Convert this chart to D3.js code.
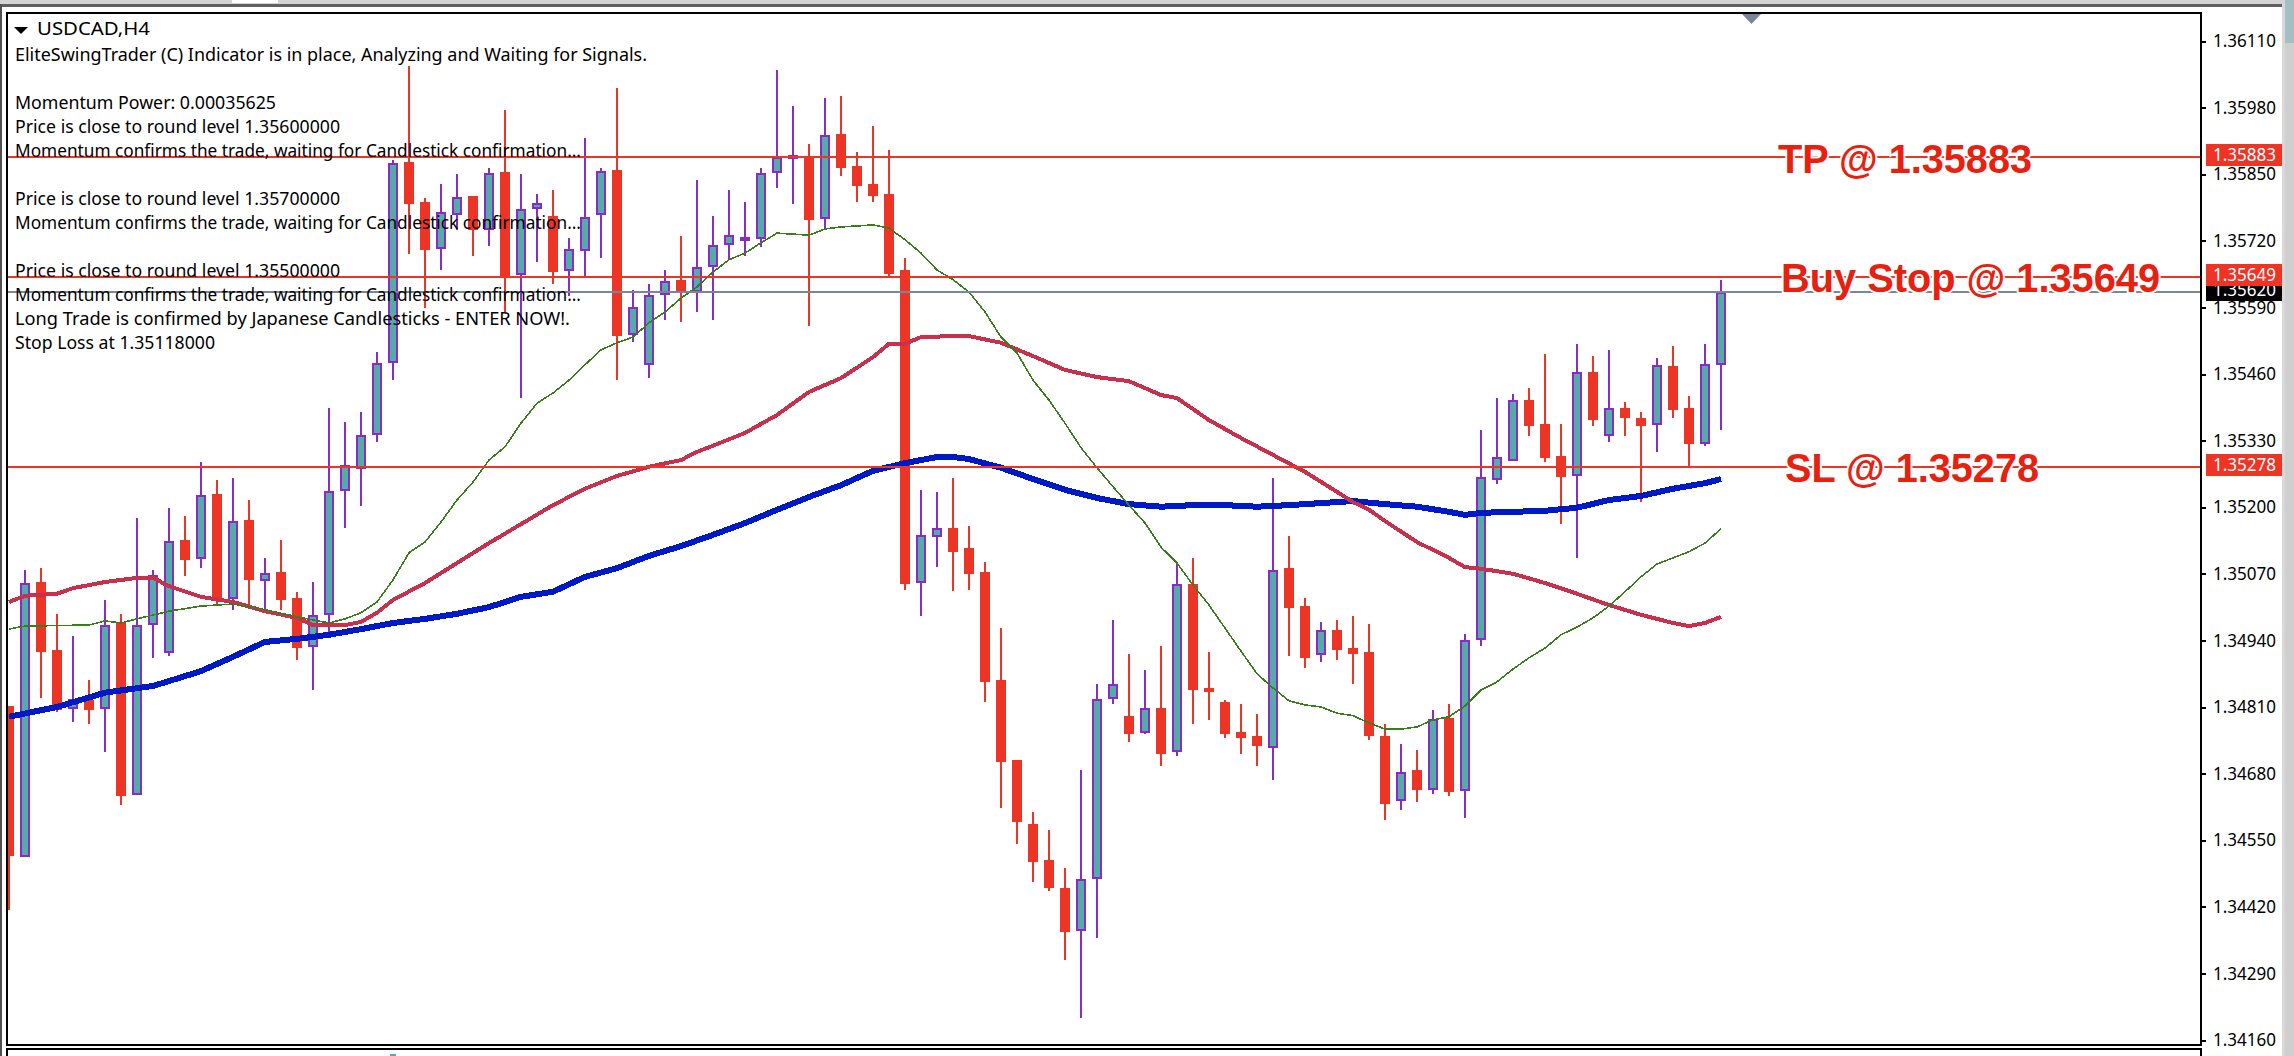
<!DOCTYPE html>
<html>
<head>
<meta charset="utf-8">
<title>USDCAD,H4</title>
<script src="https://cdn.jsdelivr.net/npm/d3@7"></script>
<style>
  html, body { margin: 0; padding: 0; background: #fff; overflow: hidden; }
  svg { display: block; }
  text { font-family: "Noto Sans", sans-serif; }
  .axis text, .tag text { font-size: 18px; fill: #000; }
  .tag text { fill: #fff; }
  .info { font-size: 17.5px; fill: #000; }
  .level-label {
    font-family: "Liberation Sans", sans-serif; font-weight: bold; font-size: 41px;
    fill: #e8200f; stroke: #fff; stroke-width: 4px; paint-order: stroke;
  }
</style>
</head>
<body>
<svg id="chart" width="2294" height="1056"></svg>
<script>
const opens = [1.34812,1.34518,1.35054,1.34921,1.34806,1.34824,1.34806,1.34974,1.34639,1.34970,1.34916,1.35136,1.35099,1.35226,1.35021,1.35175,1.35056,1.35074,1.35023,1.34927,1.34990,1.35232,1.35275,1.35341,1.35482,1.35874,1.35796,1.35704,1.35770,1.35808,1.35741,1.35854,1.35653,1.35782,1.35768,1.35661,1.35700,1.35770,1.35858,1.35536,1.35478,1.35614,1.35644,1.35620,1.35669,1.35712,1.35720,1.35724,1.35852,1.35884,1.35884,1.35763,1.35928,1.35866,1.35831,1.35811,1.35663,1.35052,1.35142,1.35160,1.35121,1.35074,1.34863,1.34707,1.34582,1.34512,1.34457,1.34373,1.34475,1.34826,1.34793,1.34760,1.34808,1.34722,1.35050,1.34847,1.34820,1.34761,1.34754,1.34730,1.35081,1.35007,1.34912,1.34960,1.34925,1.34918,1.34754,1.34627,1.34687,1.34648,1.34789,1.34646,1.34941,1.35253,1.35290,1.35409,1.35363,1.35300,1.35261,1.35464,1.35339,1.35394,1.35374,1.35361,1.35476,1.35394,1.35323,1.35478];
const closes = [1.34520,1.35052,1.34918,1.34804,1.34826,1.34804,1.34970,1.34637,1.34970,1.35068,1.35134,1.35097,1.35224,1.35021,1.35173,1.35058,1.35072,1.35019,1.34925,1.34990,1.35232,1.35282,1.35341,1.35482,1.35872,1.35792,1.35702,1.35776,1.35806,1.35741,1.35852,1.35649,1.35782,1.35794,1.35659,1.35704,1.35766,1.35856,1.35534,1.35591,1.35614,1.35642,1.35620,1.35669,1.35712,1.35731,1.35727,1.35852,1.35884,1.35887,1.35761,1.35927,1.35862,1.35827,1.35808,1.35655,1.35050,1.35146,1.35160,1.35113,1.35070,1.34859,1.34703,1.34586,1.34508,1.34457,1.34371,1.34475,1.34826,1.34855,1.34758,1.34808,1.34718,1.35050,1.34843,1.34840,1.34758,1.34750,1.34734,1.35077,1.35003,1.34906,1.34960,1.34921,1.34914,1.34754,1.34621,1.34683,1.34648,1.34787,1.34644,1.34941,1.35259,1.35298,1.35409,1.35359,1.35296,1.35259,1.35464,1.35370,1.35394,1.35374,1.35359,1.35478,1.35390,1.35323,1.35480,1.35620];
const highs = [1.34812,1.35077,1.35081,1.34992,1.34949,1.34863,1.35019,1.34992,1.35179,1.35077,1.35199,1.35183,1.35289,1.35253,1.35257,1.35214,1.35101,1.35136,1.35035,1.35054,1.35394,1.35366,1.35386,1.35503,1.35878,1.36061,1.35804,1.35831,1.35850,1.35808,1.35862,1.35975,1.35850,1.35811,1.35819,1.35725,1.35921,1.35862,1.36018,1.35624,1.35636,1.35663,1.35729,1.35839,1.35768,1.35819,1.35796,1.35862,1.36053,1.35983,1.35909,1.35999,1.36003,1.35893,1.35944,1.35897,1.35686,1.35234,1.35230,1.35257,1.35163,1.35093,1.34964,1.34707,1.34605,1.34570,1.34496,1.34687,1.34855,1.34980,1.34914,1.34882,1.34929,1.35091,1.35101,1.34918,1.34824,1.34816,1.34797,1.35257,1.35144,1.35023,1.34976,1.34980,1.34988,1.34972,1.34777,1.34738,1.34726,1.34804,1.34816,1.34953,1.35351,1.35413,1.35421,1.35433,1.35499,1.35363,1.35519,1.35495,1.35507,1.35405,1.35386,1.35491,1.35515,1.35417,1.35519,1.35644];
const lows = [1.34414,1.34518,1.34828,1.34800,1.34781,1.34777,1.34722,1.34619,1.34639,1.34906,1.34910,1.35066,1.35081,1.35011,1.35000,1.35007,1.35002,1.35000,1.34902,1.34843,1.34955,1.35160,1.35202,1.35327,1.35448,1.35694,1.35589,1.35663,1.35741,1.35690,1.35710,1.35581,1.35413,1.35679,1.35636,1.35612,1.35649,1.35686,1.35448,1.35523,1.35452,1.35566,1.35562,1.35581,1.35566,1.35683,1.35690,1.35708,1.35823,1.35792,1.35554,1.35741,1.35847,1.35796,1.35796,1.35649,1.35039,1.34988,1.35083,1.35037,1.35039,1.34820,1.34613,1.34543,1.34469,1.34451,1.34316,1.34203,1.34359,1.34816,1.34742,1.34758,1.34695,1.34715,1.34777,1.34785,1.34750,1.34718,1.34695,1.34668,1.34910,1.34886,1.34898,1.34902,1.34855,1.34746,1.34590,1.34609,1.34625,1.34640,1.34637,1.34594,1.34929,1.35245,1.35290,1.35339,1.35288,1.35167,1.35101,1.35359,1.35327,1.35339,1.35210,1.35308,1.35374,1.35279,1.35320,1.35351];

const fastBars = [0,1,5,6,7,8,10,12,14,16,18,20,21,22,23,24,25,26,27,28,29,30,31,32,33,34,35,36,37,38,39,40,41,42,43,44,45,46,47,48,50,51,52,54,55,56,57,58,59,60,61,62,63,64,65,66,67,68,69,70,71,72,73,74,75,76,77,78,79,80,81,82,83,84,85,86,87,88,89,90,91,92,93,94,95,96,97,98,99,100,101,102,103,104,105,106,107];
const fastMa = [1.34962,1.34968,1.34970,1.34978,1.34974,1.34982,1.34997,1.35007,1.35011,1.35000,1.34986,1.34974,1.34982,1.34994,1.35015,1.35058,1.35111,1.35132,1.35171,1.35214,1.35249,1.35292,1.35318,1.35364,1.35403,1.35423,1.35448,1.35478,1.35507,1.35521,1.35532,1.35560,1.35581,1.35608,1.35630,1.35659,1.35683,1.35696,1.35716,1.35735,1.35731,1.35743,1.35747,1.35751,1.35745,1.35722,1.35696,1.35663,1.35644,1.35620,1.35581,1.35532,1.35501,1.35448,1.35409,1.35364,1.35316,1.35277,1.35240,1.35204,1.35169,1.35122,1.35091,1.35048,1.35009,1.34964,1.34919,1.34875,1.34847,1.34822,1.34814,1.34810,1.34798,1.34793,1.34779,1.34767,1.34767,1.34771,1.34785,1.34791,1.34812,1.34843,1.34859,1.34884,1.34906,1.34925,1.34951,1.34966,1.34984,1.35007,1.35035,1.35064,1.35089,1.35101,1.35113,1.35130,1.35158];
const midBars = [0,1,3,4,6,8,9,10,12,14,16,18,19,21,22,23,24,26,28,30,32,34,36,38,40,42,43,44,46,48,50,52,54,55,56,57,59,60,62,64,66,68,70,72,73,75,77,79,81,83,84,85,86,88,90,91,92,94,96,98,100,102,104,105,106,107];
const midMa = [1.35015,1.35027,1.35031,1.35042,1.35054,1.35062,1.35062,1.35046,1.35025,1.35015,1.34997,1.34984,1.34970,1.34970,1.34976,1.34994,1.35019,1.35052,1.35091,1.35130,1.35167,1.35204,1.35236,1.35261,1.35279,1.35292,1.35308,1.35320,1.35345,1.35380,1.35425,1.35452,1.35493,1.35519,1.35519,1.35532,1.35534,1.35534,1.35521,1.35495,1.35468,1.35454,1.35446,1.35419,1.35413,1.35370,1.35335,1.35302,1.35269,1.35230,1.35210,1.35195,1.35173,1.35132,1.35101,1.35083,1.35080,1.35070,1.35052,1.35031,1.35009,1.34990,1.34974,1.34968,1.34974,1.34986];
const slowBars = [0,3,6,9,12,14,16,18,20,22,24,26,28,30,32,34,36,38,40,42,44,46,48,50,52,54,56,58,59,60,62,64,66,68,70,72,74,76,78,80,82,84,86,88,90,91,92,94,96,98,100,102,104,106,107];
const slowMa = [1.34791,1.34810,1.34838,1.34851,1.34880,1.34908,1.34937,1.34943,1.34951,1.34962,1.34974,1.34982,1.34992,1.35005,1.35025,1.35035,1.35064,1.35081,1.35105,1.35124,1.35146,1.35169,1.35195,1.35220,1.35243,1.35271,1.35286,1.35298,1.35298,1.35294,1.35277,1.35255,1.35234,1.35218,1.35206,1.35201,1.35204,1.35204,1.35201,1.35204,1.35208,1.35212,1.35206,1.35201,1.35191,1.35185,1.35189,1.35191,1.35193,1.35199,1.35214,1.35222,1.35236,1.35247,1.35255];

const priceTicks = [1.36110,1.35980,1.35850,1.35720,1.35590,1.35460,1.35330,1.35200,1.35070,1.34940,1.34810,1.34680,1.34550,1.34420,1.34290,1.34160];
const takeProfit = 1.35883;
const buyStop = 1.35649;
const stopLoss = 1.35278;
const lastPrice = 1.35620;

const symbolTitle = 'USDCAD,H4';
const infoLines = [
  'EliteSwingTrader (C) Indicator is in place, Analyzing and Waiting for Signals.',
  '',
  'Momentum Power: 0.00035625',
  'Price is close to round level 1.35600000',
  'Momentum confirms the trade, waiting for Candlestick confirmation...',
  '',
  'Price is close to round level 1.35700000',
  'Momentum confirms the trade, waiting for Candlestick confirmation...',
  '',
  'Price is close to round level 1.35500000',
  'Momentum confirms the trade, waiting for Candlestick confirmation...',
  'Long Trade is confirmed by Japanese Candlesticks - ENTER NOW!.',
  'Stop Loss at 1.35118000'
];
const infoWidths = [632,0,261,325,566,0,325,566,0,325,566,555,200];

const levelLabels = [
  { text: 'TP @ 1.35883', price: takeProfit, left: 1778, width: 254, drop: 16 },
  { text: 'Buy Stop @ 1.35649', price: buyStop, left: 1781, width: 379, drop: 15 },
  { text: 'SL @ 1.35278', price: stopLoss, left: 1785, width: 254, drop: 15 }
];

const svg = d3.select('#chart');
const frame = { left: 7, top: 13, right: 2201, bottom: 1045 };

const x = d3.scaleLinear().domain([0, opens.length - 1]).range([9, 1721]);
const y = d3.scaleLinear().domain([priceTicks[0], priceTicks[priceTicks.length - 1]]).range([41, 1040]);
const fmt = d3.format('.5f');

const purple = '#8a2bc9', red = '#ee3425', teal = '#55aba6', slate = '#78869a';

// window chrome
svg.append('rect').attr('width', 2294).attr('height', 4).attr('fill', '#d4d4d4');
svg.append('rect').attr('y', 4).attr('width', 2282).attr('height', 3).attr('fill', '#606060');
svg.append('rect').attr('x', 232).attr('width', 46).attr('height', 3).attr('fill', '#fff');
svg.append('rect').attr('y', 4).attr('width', 2).attr('height', 1052).attr('fill', '#505050');
svg.append('rect').attr('x', 2282).attr('y', 4).attr('width', 3).attr('height', 1052).attr('fill', '#d8d8d8');
svg.append('rect').attr('x', 2285).attr('y', 4).attr('width', 9).attr('height', 1052).attr('fill', '#cfcfcf');
svg.append('rect').attr('x', 2285).attr('y', 0).attr('width', 9).attr('height', 43).attr('fill', '#a3bfc3');

svg.append('clipPath').attr('id', 'plot-clip').append('rect')
  .attr('x', frame.left).attr('y', frame.top)
  .attr('width', frame.right - frame.left).attr('height', frame.bottom - frame.top);

const plot = svg.append('g').attr('clip-path', 'url(#plot-clip)').attr('shape-rendering', 'crispEdges');

// candles
const bars = opens.map((o, i) => ({ i, o, c: closes[i], h: highs[i], l: lows[i], up: closes[i] >= o }));
const candle = plot.selectAll('.candle').data(bars).enter().append('g').attr('class', 'candle');

candle.append('rect')
  .attr('x', d => x(d.i) - 1)
  .attr('y', d => y(d.h))
  .attr('width', 2)
  .attr('height', d => y(d.l) - y(d.h))
  .attr('fill', d => d.up ? purple : red);

candle.append('rect')
  .attr('x', d => x(d.i) - (d.up ? 4 : 5))
  .attr('y', d => y(Math.max(d.o, d.c)) + (d.up ? 1 : 0))
  .attr('width', d => d.up ? 8 : 10)
  .attr('height', d => Math.max(2, y(Math.min(d.o, d.c)) - y(Math.max(d.o, d.c)) - (d.up ? 2 : 0)))
  .attr('fill', d => d.up ? teal : red)
  .attr('stroke', d => d.up ? purple : 'none')
  .attr('stroke-width', 2);

// moving averages
const maLine = d3.line().x(d => x(d[0])).y(d => y(d[1]));
[
  { bars: slowBars, values: slowMa, color: '#0019c6', width: 6 },
  { bars: midBars, values: midMa, color: '#c9304c', width: 4 },
  { bars: fastBars, values: fastMa, color: '#3a7d1c', width: 1.6 }
].forEach(ma => {
  plot.append('path')
    .datum(ma.bars.map((b, i) => [b, ma.values[i]]))
    .attr('d', maLine)
    .attr('fill', 'none')
    .attr('stroke', ma.color)
    .attr('stroke-width', ma.width);
});

// horizontal levels
plot.selectAll('.level').data([takeProfit, buyStop, lastPrice, stopLoss]).enter().append('rect')
  .attr('class', 'level')
  .attr('x', frame.left)
  .attr('y', d => Math.round(y(d)) - 1)
  .attr('width', frame.right - frame.left)
  .attr('height', 2)
  .attr('fill', d => d === lastPrice ? slate : red);

// shift marker at the top of the chart
svg.append('path')
  .attr('d', d3.line()([[1742, 14], [1761, 14], [1751.5, 24]]))
  .attr('fill', slate);

// level labels
svg.selectAll('.level-label').data(levelLabels).enter().append('text')
  .attr('class', 'level-label')
  .attr('x', d => d.left)
  .attr('y', d => y(d.price) + d.drop)
  .attr('textLength', d => d.width)
  .attr('lengthAdjust', 'spacingAndGlyphs')
  .text(d => d.text);

// title and indicator text
svg.append('path').attr('d', d3.line()([[14, 27], [28, 27], [21, 34]])).attr('fill', '#000');
svg.append('text').attr('class', 'info').attr('x', 37).attr('y', 35)
  .attr('textLength', 113).attr('lengthAdjust', 'spacingAndGlyphs').text(symbolTitle);

svg.selectAll('.info-line').data(infoLines).enter().append('text')
  .attr('class', 'info info-line')
  .attr('x', 15)
  .attr('y', (d, i) => 61 + i * 24)
  .attr('textLength', (d, i) => infoWidths[i] || null)
  .attr('lengthAdjust', 'spacingAndGlyphs')
  .text(d => d);

// frame
svg.append('rect')
  .attr('x', frame.left).attr('y', frame.top)
  .attr('width', frame.right - frame.left).attr('height', frame.bottom - frame.top)
  .attr('fill', 'none').attr('stroke', '#000').attr('stroke-width', 2)
  .attr('shape-rendering', 'crispEdges');
svg.append('path')
  .attr('d', `M${frame.left},1056V1049H${frame.right}V1056`)
  .attr('fill', 'none').attr('stroke', '#000').attr('stroke-width', 2)
  .attr('shape-rendering', 'crispEdges');
svg.append('rect').attr('x', 390).attr('y', 1054).attr('width', 6).attr('height', 2).attr('fill', teal);

// price axis
const axis = svg.append('g')
  .attr('class', 'axis')
  .attr('transform', `translate(${frame.right},0)`)
  .call(d3.axisRight(y).tickValues(priceTicks).tickFormat(fmt).tickSize(5).tickPadding(7));
axis.select('.domain').remove();
axis.selectAll('line').attr('stroke', '#000').attr('stroke-width', 2).attr('shape-rendering', 'crispEdges');
axis.selectAll('text').attr('textLength', 63).attr('lengthAdjust', 'spacingAndGlyphs');

// price tags on the axis
const tags = svg.selectAll('.tag').data([lastPrice, takeProfit, buyStop, stopLoss]).enter().append('g').attr('class', 'tag');
tags.append('rect')
  .attr('x', 2206)
  .attr('y', d => y(d) - 13)
  .attr('width', 76)
  .attr('height', 22)
  .attr('fill', d => d === lastPrice ? '#000' : red)
  .attr('shape-rendering', 'crispEdges');
tags.append('text')
  .attr('x', 2213)
  .attr('y', d => y(d) + 4)
  .attr('textLength', 63)
  .attr('lengthAdjust', 'spacingAndGlyphs')
  .text(d => fmt(d));
</script>
</body>
</html>
